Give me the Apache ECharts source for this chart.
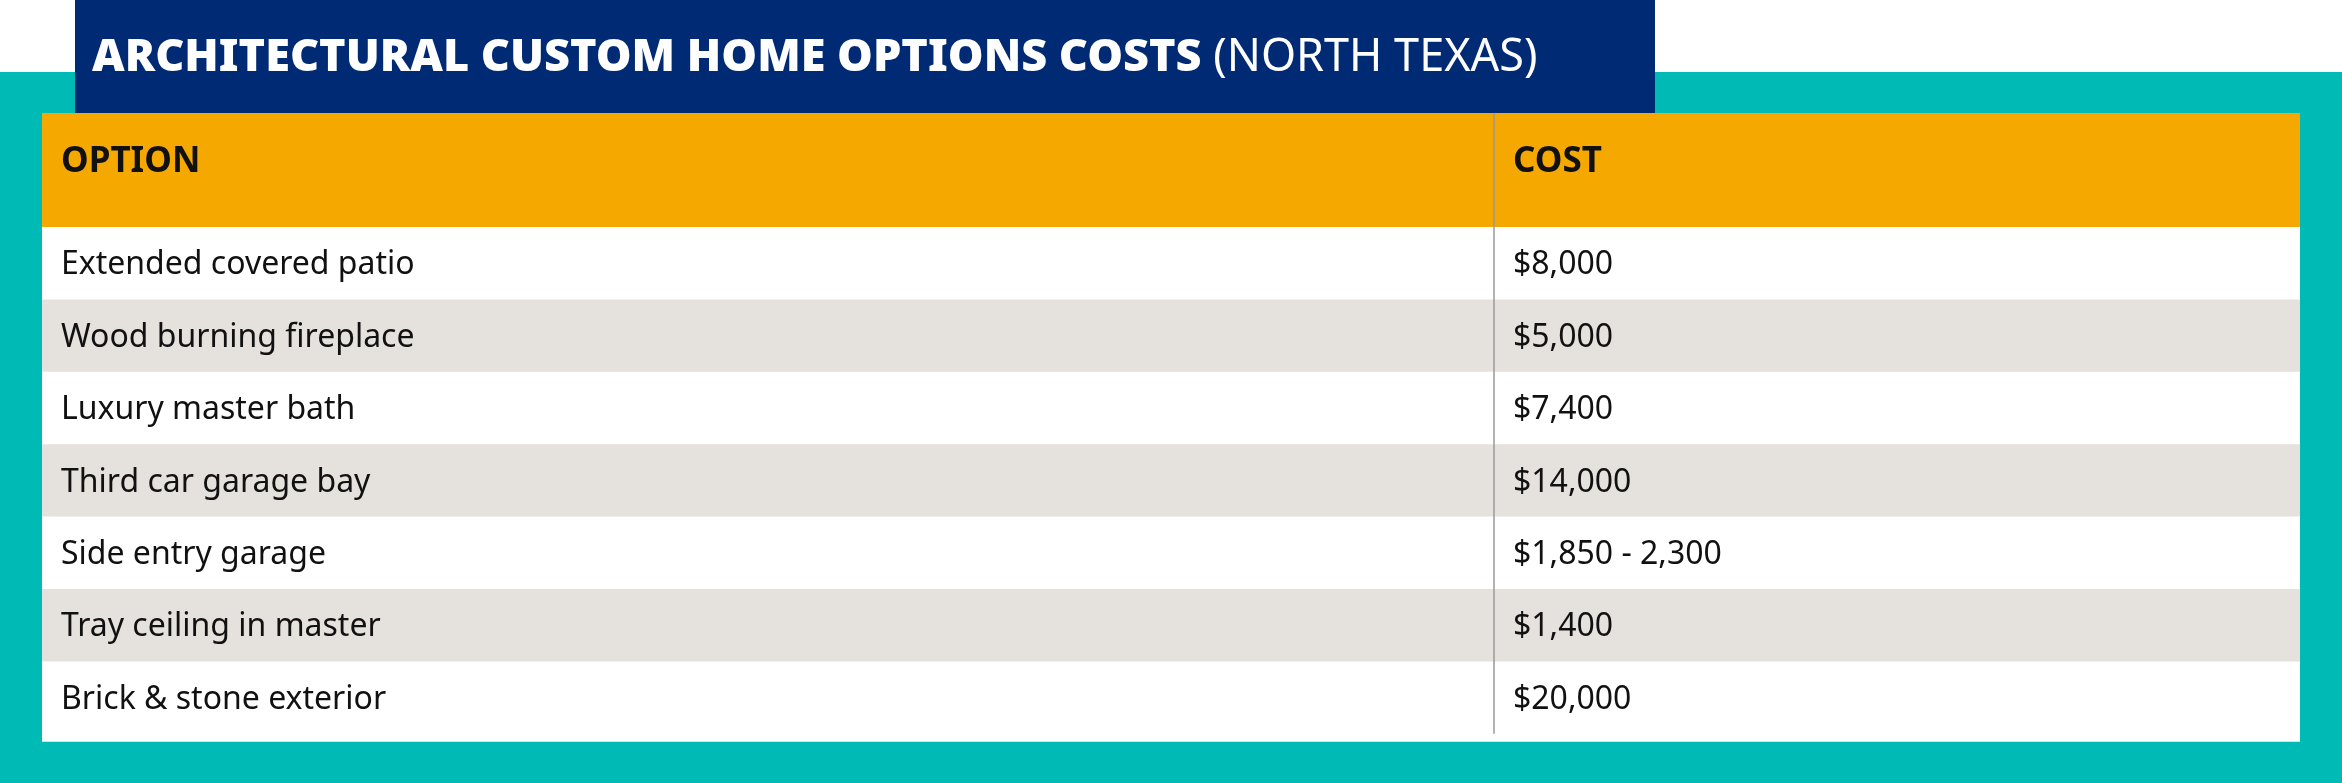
<!DOCTYPE html>
<html lang="en">
<head>
<meta charset="UTF-8" />
<title>Custom Home Options Costs</title>
<style>
  body { margin: 0; padding: 0; background: #fff; }
  .chart { width: 2342px; height: 783px; }
</style>
</head>
<body>
<div class="chart"></div>
<script src="https://cdn.jsdelivr.net/npm/echarts@6/dist/echarts.min.js"></script>
<script>
const titleBold = 'ARCHITECTURAL CUSTOM HOME OPTIONS COSTS';
const titleLight = ' (NORTH TEXAS)';
const headers = ['OPTION', 'COST'];
const options = [
  'Extended covered patio',
  'Wood burning fireplace',
  'Luxury master bath',
  'Third car garage bay',
  'Side entry garage',
  'Tray ceiling in master',
  'Brick & stone exterior'
];
const costs = ['$8,000', '$5,000', '$7,400', '$14,000', '$1,850 - 2,300', '$1,400', '$20,000'];

const W = 2342, H = 783;
const tableX = 42, tableW = 2258, tableY = 113;
const headH = 114, rowH = 72.4, divX = 1494;
const font = '"Noto Sans", Lato, sans-serif';

const els = [];
// teal band
els.push({ type: 'rect', shape: { x: 0, y: 72, width: W, height: H - 72 }, style: { fill: '#00bab5' } });
// table background
els.push({ type: 'rect', shape: { x: tableX, y: tableY, width: tableW, height: headH + rowH * options.length + 8 }, style: { fill: '#ffffff' } });
// header
els.push({ type: 'rect', shape: { x: tableX, y: tableY, width: tableW, height: headH }, style: { fill: '#f5a800' } });
headers.forEach((h, i) => {
  els.push({ type: 'text', x: (i === 0 ? tableX + 19 : divX + 19), y: tableY + headH / 2 - 8,
    style: { text: h, fill: '#111', font: 'bold 35px ' + font, verticalAlign: 'middle' } });
});
// rows
options.forEach((o, i) => {
  const y = tableY + headH + i * rowH;
  if (i % 2 === 1) {
    els.push({ type: 'rect', shape: { x: tableX, y: y, width: tableW, height: rowH }, style: { fill: '#e5e1dc' } });
  }
  els.push({ type: 'text', x: tableX + 19, y: y + rowH / 2 + 2,
    style: { text: o, fill: '#111', font: '32px ' + font, verticalAlign: 'middle' } });
  els.push({ type: 'text', x: divX + 19, y: y + rowH / 2 + 2,
    style: { text: costs[i], fill: '#111', font: '32px ' + font, verticalAlign: 'middle' } });
});
// column divider
els.push({ type: 'line', shape: { x1: divX, y1: tableY, x2: divX, y2: tableY + headH + rowH * options.length }, style: { stroke: '#999', lineWidth: 1.5 } });
// title box
els.push({ type: 'rect', shape: { x: 75, y: 0, width: 1580, height: 113 }, style: { fill: '#002a73' } });
els.push({ type: 'text', x: 92, y: 58,
  style: { text: '{b|' + titleBold + '}{l|' + titleLight + '}', verticalAlign: 'middle',
    rich: {
      b: { fill: '#fff', font: '900 45px ' + font },
      l: { fill: '#fff', font: '400 45px ' + font }
    } } });

const chart = echarts.init(document.querySelector('.chart'));
chart.setOption({ animation: false, graphic: { elements: els } });
</script>
</body>
</html>
